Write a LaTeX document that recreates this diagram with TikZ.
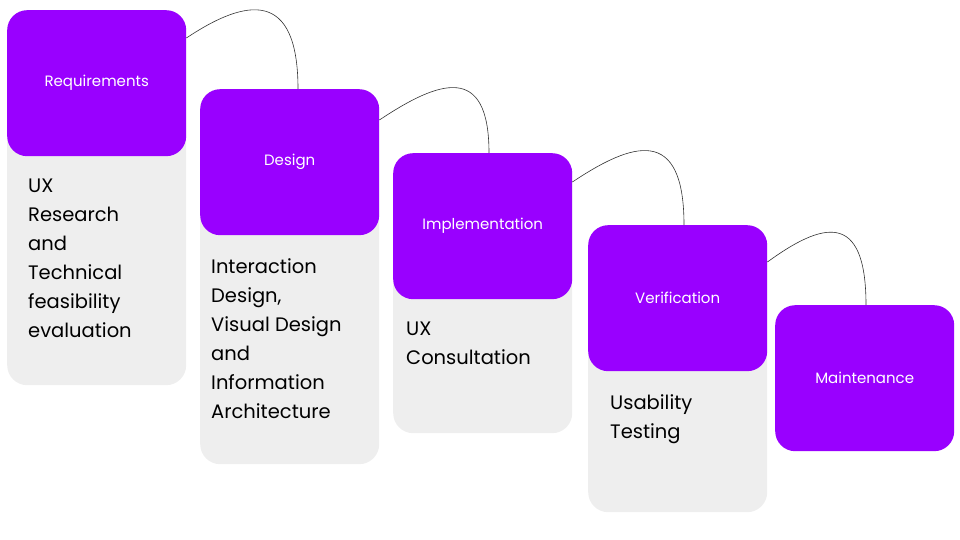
\documentclass[tikz,border=0pt]{standalone}
\usepackage{fontspec}
\setmainfont{Poppins}
\usetikzlibrary{positioning}
\definecolor{phase}{HTML}{9900FF}
\definecolor{note}{HTML}{EEEEEE}
\tikzset{
  phase/.style={rectangle, rounded corners=20pt, fill=phase, text=white, minimum width=179pt, minimum height=146pt, anchor=north west, font=\fontsize{15}{18}\selectfont},
  note/.style={rectangle, rounded corners=20pt, fill=note, minimum width=179pt, anchor=north west},
  notetext/.style={anchor=north west, align=left, inner sep=0pt, font=\fontsize{19.5}{29}\selectfont},
  link/.style={draw=black!80, line width=0.6pt}
}
\begin{document}
\begin{tikzpicture}[x=1pt,y=-1pt]
\useasboundingbox (0,0) rectangle (960,540);

% Notes behind the phases
\node (reqbg) [note, minimum height=375pt] at (7,10) {};
\node (desbg) [note, minimum height=375pt] at (200,89) {};
\node (impbg) [note, minimum height=280pt] at (393,153) {};
\node (verbg) [note, minimum height=287pt] at (588,225) {};

% Phases
\node (req) [phase] at (7,10) {Requirements};
\node (des) [phase] at (200,89) {Design};
\node (imp) [phase] at (393,153) {Implementation};
\node (ver) [phase] at (588,225) {Verification};
\node (mnt) [phase] at (775,305) {Maintenance};

% Texts
\node (reqtxt) [notetext] at (28,179) {UX\\Research\\and\\Technical\\feasibility\\evaluation};
\node (destxt) [notetext] at (211,258) {Interaction\\Design,\\Visual Design\\and\\Information\\Architecture};
\node (imptxt) [notetext] at (406,322) {UX\\Consultation};
\node (vertxt) [notetext] at (610,394) {Usability\\Testing};

% Links
\draw [link] (req.north east) ++(0,28) .. controls +(60,-40) and +(0,-100) .. (des.north -| 298,0);
\draw [link] (des.north east) ++(0,31) .. controls +(60,-40) and +(0,-90) .. (imp.north -| 489,0);
\draw [link] (imp.north east) ++(0,29) .. controls +(60,-40) and +(0,-100) .. (ver.north -| 684,0);
\draw [link] (ver.north east) ++(0,37) .. controls +(55,-40) and +(0,-95) .. (mnt.north -| 866,0);
\end{tikzpicture}
\end{document}
